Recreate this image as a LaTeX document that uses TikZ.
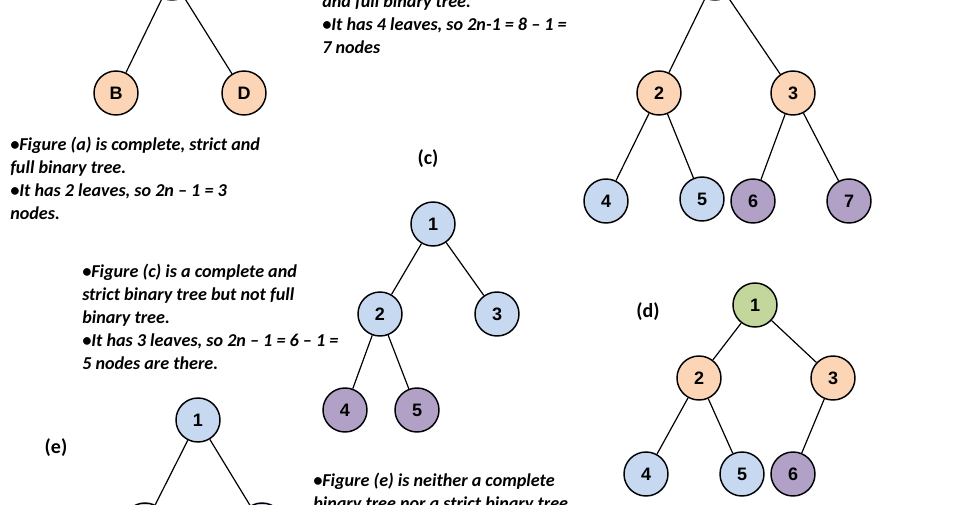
\documentclass[tikz,border=0pt]{standalone}
\usepackage{fontspec}
\setmainfont{Carlito}
\newfontfamily\labfont{Liberation Sans}
\definecolor{peach}{RGB}{251,213,181}
\definecolor{lblue}{RGB}{198,217,241}
\definecolor{lpurple}{RGB}{178,161,199}
\definecolor{lgreen}{RGB}{195,214,155}
\tikzset{
  vtx/.style={circle,draw,line width=1.1pt,minimum size=33pt,inner sep=0pt,font=\labfont\bfseries\fontsize{13.5}{15}\selectfont},
  pch/.style={vtx,fill=peach},
  blu/.style={vtx,fill=lblue},
  pur/.style={vtx,fill=lpurple},
  grn/.style={vtx,fill=lgreen},
  note/.style={anchor=north west,align=left,inner sep=0pt,font=\bfseries\itshape\fontsize{13.6}{17.2}\selectfont},
  tag/.style={font=\bfseries\fontsize{15}{18}\selectfont},
  edge/.style={line width=0.9pt}
}
\begin{document}
\begin{tikzpicture}[x=0.75pt,y=-0.75pt]
  \useasboundingbox (0,0) rectangle (960,504);
  \clip (0,0) rectangle (960,504);

  % tree (a)
  \node[pch] (aA) at (172,-22) {A};
  \node[pch] (aB) at (116,93) {B};
  \node[pch] (aD) at (244,93) {D};
  \draw[edge] (aA) -- (aB) (aA) -- (aD);

  % tree (b)
  \node[pch] (b1) at (715,-22) {1};
  \node[pch] (b2) at (659,93) {2};
  \node[pch] (b3) at (793,93) {3};
  \node[blu] (b4) at (606,201) {4};
  \node[blu] (b5) at (702,199) {5};
  \node[pur] (b6) at (753,201) {6};
  \node[pur] (b7) at (849,201) {7};
  \draw[edge] (b1) -- (b2) (b1) -- (b3) (b2) -- (b4) (b2) -- (b5) (b3) -- (b6) (b3) -- (b7);

  % tree (c)
  \node[tag] (tc) at (428,159) {(c)};
  \node[blu] (c1) at (433,224) {1};
  \node[blu] (c2) at (380,314) {2};
  \node[blu] (c3) at (497,314) {3};
  \node[pur] (c4) at (345,410) {4};
  \node[pur] (c5) at (417,410) {5};
  \draw[edge] (c1) -- (c2) (c1) -- (c3) (c2) -- (c4) (c2) -- (c5);

  % tree (d)
  \node[tag] (td) at (648,312) {(d)};
  \node[grn] (d1) at (755,305) {1};
  \node[pch] (d2) at (699,378) {2};
  \node[pch] (d3) at (833,378) {3};
  \node[blu] (d4) at (646,474) {4};
  \node[blu] (d5) at (742,474) {5};
  \node[pur] (d6) at (793,474) {6};
  \draw[edge] (d1) -- (d2) (d1) -- (d3) (d2) -- (d4) (d2) -- (d5) (d3) -- (d6);

  % tree (e)
  \node[tag] (te) at (56,448) {(e)};
  \node[blu] (e1) at (198,420) {1};
  \node[blu] (e2) at (145,525) {2};
  \node[blu] (e3) at (262,525) {3};
  \draw[edge] (e1) -- (e2) (e1) -- (e3);

  % notes
  \node[note] (nb) at (322,-29) {•Figure (b) is complete, strict\\and full binary tree.\\•It has 4 leaves, so 2n-1 = 8 -- 1 =\\7 nodes};
  \node[note] (na) at (10,137) {•Figure (a) is complete, strict and\\full binary tree.\\•It has 2 leaves, so 2n -- 1 = 3\\nodes.};
  \node[note] (nc) at (82,264) {•Figure (c) is a complete and\\strict binary tree but not full\\binary tree.\\•It has 3 leaves, so 2n -- 1 = 6 -- 1 =\\5 nodes are there.};
  \node[note] (ne) at (313,473) {•Figure (e) is neither a complete\\binary tree nor a strict binary tree.};
\end{tikzpicture}
\end{document}
